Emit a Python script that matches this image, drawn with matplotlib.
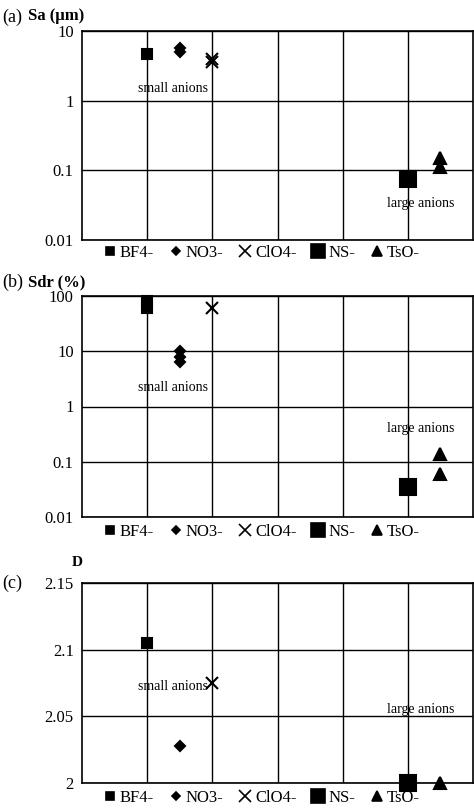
import matplotlib
matplotlib.use("Agg")
import matplotlib.pyplot as plt
from matplotlib.lines import Line2D

plt.rcParams["font.family"] = ["Liberation Serif", "DejaVu Serif"]

anions = ["BF4-", "NO3-", "ClO4-", "NS-", "TsO-"]
xpos = [1, 1.5, 2, 5, 5.5]
markers = ["s", "D", "x", "s", "^"]
sizes = [7, 5, 9, 11, 8]

sa_values = [[4.7], [5.0, 5.7], [3.6, 4.0], [0.075], [0.11, 0.15]]
sdr_values = [[60, 80], [6.5, 8, 10], [60], [0.035], [0.06, 0.14]]
d_values = [[2.105], [2.028], [2.075], [2.0], [2.0]]

W, H = 474, 810
fig = plt.figure(figsize=(W / 100, H / 100), dpi=100)


def panel(top, bottom, values, log, ylim, yticks, yticklabels, tag, ylabel, small_xy, large_xy, leg_y):
    ax = fig.add_axes([82 / W, 1 - bottom / H, 391 / W, (bottom - top) / H])
    for i, vals in enumerate(values):
        ax.plot([xpos[i]] * len(vals), vals, linestyle="none", marker=markers[i],
                markersize=sizes[i], color="black", mew=1.5, clip_on=False, zorder=3)
    if log:
        ax.set_yscale("log")
    ax.set_ylim(*ylim)
    ax.set_xlim(0, 6)
    ax.set_yticks(yticks)
    ax.set_yticklabels(yticklabels, fontsize=12)
    ax.minorticks_off()
    ax.set_xticks([1, 2, 3, 4, 5])
    ax.tick_params(axis="x", length=0, labelbottom=False)
    ax.tick_params(axis="y", length=0, pad=6)
    ax.grid(True, color="black", linewidth=1)
    for s in ax.spines.values():
        s.set_linewidth(1.2)
    ax.text(*small_xy, "small anions", fontsize=10, ha="center", va="center")
    ax.text(*large_xy, "large anions", fontsize=10, ha="center", va="center")
    handles = [Line2D([], [], linestyle="none", marker=m, color="black",
                      markersize=s * 0.9, mew=1.2) for m, s in zip(markers, sizes)]
    fig.legend(handles, anions, loc="center", bbox_to_anchor=(0.55, 1 - leg_y / H),
               ncol=5, frameon=False, fontsize=12, handletextpad=0.1,
               columnspacing=0.8, handlelength=1)
    fig.text(2 / W, 1 - (top - 14) / H, tag, fontsize=13, ha="left", va="center")
    return ax


panel(31, 240, sa_values, True, (0.01, 10), [0.01, 0.1, 1, 10],
      ["0.01", "0.1", "1", "10"], "(a)", None, (1.4, 1.5), (5.2, 0.033), 253)
fig.text(28 / W, 1 - 16 / H, "Sa (\u03bcm)", fontsize=12, fontweight="bold", va="center")

panel(296, 517, sdr_values, True, (0.01, 100), [0.01, 0.1, 1, 10, 100],
      ["0.01", "0.1", "1", "10", "100"], "(b)", None, (1.4, 2.2), (5.2, 0.4), 532)
fig.text(28 / W, 1 - 282 / H, "Sdr (%)", fontsize=12, fontweight="bold", va="center")

panel(583, 783, d_values, False, (2.0, 2.15), [2.0, 2.05, 2.1, 2.15],
      ["2", "2.05", "2.1", "2.15"], "(c)", None, (1.4, 2.072), (5.2, 2.055), 798)
fig.text(72 / W, 1 - 562 / H, "D", fontsize=11, fontweight="bold", va="center")
fig.texts[-2].set_position((2 / W, 1 - 583 / H))

fig.savefig("out.png", dpi=100)
